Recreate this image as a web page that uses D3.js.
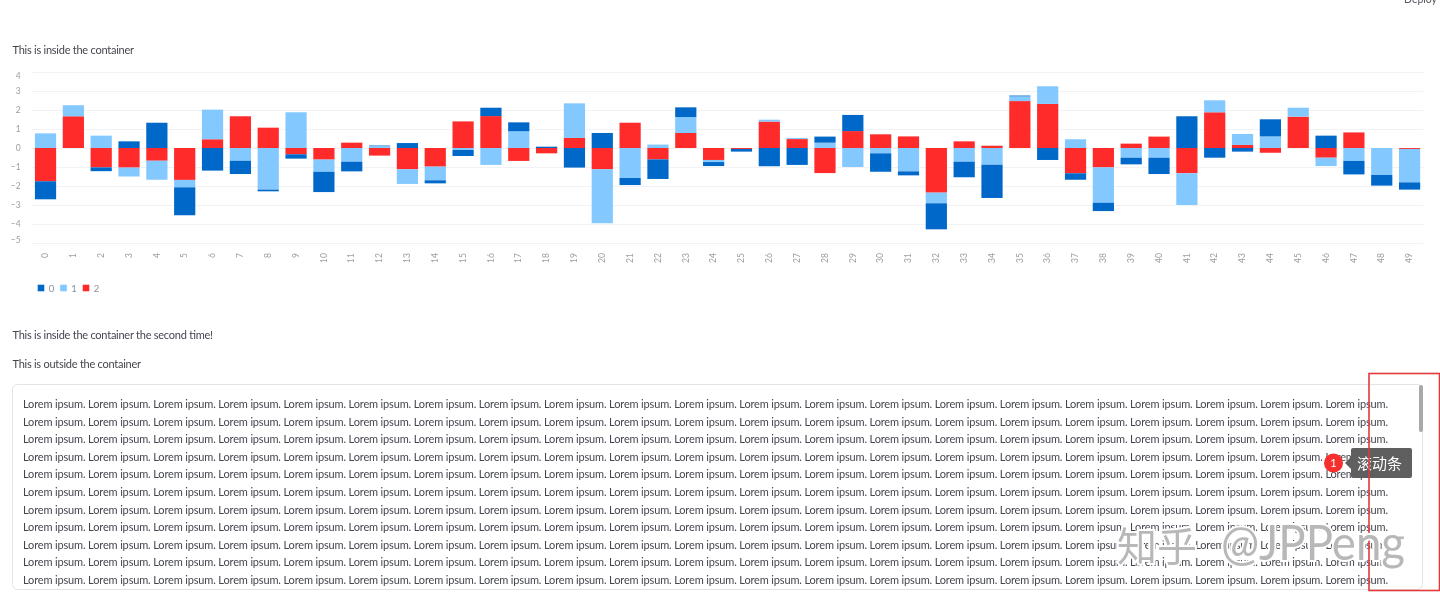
<!DOCTYPE html>
<html>
<head>
<meta charset="utf-8">
<script src="https://cdn.jsdelivr.net/npm/d3@7"></script>
<style>
    html, body {margin: 0; padding: 0; background: #fff; overflow: hidden;}
    svg {display: block; filter: blur(0.35px);}
    text {font-family: "Lato", "Noto Sans", sans-serif;}
    .page-text {font-size: 11px; fill: #44464f;}
    .axis text {font-size: 8.5px; fill: #9e9e9e;}
    .axis path {display: none;}
    .axis line {stroke: #f0f2f6;}
</style>
</head>
<body>
<div id="vis"></div>
<script>
const categories = ["0","1","2","3","4","5","6","7","8","9","10","11","12","13","14","15","16","17","18","19","20","21","22","23","24","25","26","27","28","29","30","31","32","33","34","35","36","37","38","39","40","41","42","43","44","45","46","47","48","49"];

const series0 = [-0.95,0,-0.2,0.35,1.33,-1.47,-1.19,-0.7,-0.09,-0.23,-1.07,-0.51,0.03,0.26,-0.16,-0.32,0.44,0.47,0.07,-1.03,0.79,-0.37,-1.03,0.51,-0.21,-0.14,-0.96,-0.89,0.32,0.85,-0.97,-0.21,-1.37,-0.82,-1.75,0.04,-0.63,-0.34,-0.44,-0.35,-0.86,1.67,-0.51,-0.19,0.9,0,0.65,-0.71,-0.56,-0.38];
const series1 = [0.77,0.58,0.65,-0.47,-1.0,-0.39,1.56,-0.67,-2.19,1.88,-0.64,-0.72,0.1,-0.77,-0.72,-0.1,-0.89,0.88,0,1.82,-2.84,-1.58,0.18,0.84,-0.11,0,0.1,0.06,0.28,-1.0,-0.28,-1.23,-0.56,-0.72,-0.88,0.25,0.93,0.46,-1.86,-0.51,-0.51,-1.67,0.63,0.58,0.61,0.47,-0.44,-0.68,-1.42,-1.76];
const series2 = [-1.75,1.67,-1.02,-1.03,-0.67,-1.68,0.46,1.67,1.07,-0.33,-0.61,0.28,-0.4,-1.12,-0.98,1.4,1.68,-0.68,-0.28,0.53,-1.12,1.33,-0.6,0.79,-0.63,-0.05,1.39,0.47,-1.32,0.89,0.72,0.61,-2.35,0.35,0.12,2.47,2.32,-1.33,-1.02,0.23,0.6,-1.33,1.88,0.16,-0.25,1.65,-0.51,0.82,0,-0.05];

const seriesNames = ["0", "1", "2"];
const yTicks = [-5,-4,-3,-2,-1,0,1,2,3,4];
const COLORS = ["#0068c9", "#83c9ff", "#ff2b2b"];

const pageLabels = [
    "This is inside the container",
    "This is inside the container the second time!",
    "This is outside the container"
];

const LABEL_Y = [54, 339, 368];
const LABEL_WIDTH = [121.5, 200.5, 128.5];

const FRAME_WIDTH = 1440;
const FRAME_HEIGHT = 606;
const PLOT = {left: 31.6, right: 1423.5, top: 72, bottom: 243};

const FRAME = d3.select("#vis")
    .append("svg")
        .attr("width", FRAME_WIDTH)
        .attr("height", FRAME_HEIGHT);

const X_SCALE = d3.scaleBand()
    .domain(categories)
    .range([PLOT.left, PLOT.right])
    .paddingInner(0.238)
    .paddingOuter(0.119);

const Y_SCALE = d3.scaleLinear()
    .domain([-5, 4])
    .range([PLOT.bottom, PLOT.top]);

const COLOR = d3.scaleOrdinal().domain(seriesNames).range(COLORS);

// grid first so that the bars sit on top
FRAME.append("g")
    .attr("class", "axis")
    .attr("transform", "translate(" + PLOT.left + ",0)")
    .call(d3.axisLeft(Y_SCALE)
        .tickValues(yTicks)
        .tickSize(-(PLOT.right - PLOT.left))
        .tickPadding(11))
    // first and last label are pushed inside the plot
    .call((g) => g.selectAll("text")
        .attr("dy", (d) => d === 4 ? "0.71em" : d === -5 ? "-0.11em" : "0.32em"));

FRAME.append("g")
    .attr("class", "axis")
    .attr("transform", "translate(0," + PLOT.bottom + ")")
    .call(d3.axisBottom(X_SCALE).tickSize(0))
    .call((g) => g.selectAll("text")
        .attr("transform", "rotate(-90)")
        .attr("text-anchor", "end")
        .attr("x", -10)
        .attr("y", 0)
        .attr("dy", "0.32em"));

const rows = categories.map((c, i) => ({
    category: c,
    "0": series0[i],
    "1": series1[i],
    "2": series2[i]
}));

// red sits next to zero, dark blue on the outside
const stacked = d3.stack()
    .keys(["2", "1", "0"])
    .offset(d3.stackOffsetDiverging)(rows);

FRAME.append("g")
    .selectAll("g")
    .data(stacked)
    .enter()
    .append("g")
        .attr("fill", (d) => COLOR(d.key))
    .selectAll("rect")
    .data((d) => d)
    .enter()
    .append("rect")
        .attr("x", (d) => X_SCALE(d.data.category))
        .attr("width", X_SCALE.bandwidth())
        .attr("y", (d) => Y_SCALE(d[1]))
        .attr("height", (d) => Y_SCALE(d[0]) - Y_SCALE(d[1]));

// legend
const LEGEND_X = d3.scalePoint().domain(seriesNames).range([37.7, 82.7]);

const legend = FRAME.append("g")
    .selectAll("g")
    .data(seriesNames)
    .enter()
    .append("g")
        .attr("transform", (d) => "translate(" + LEGEND_X(d) + ",284.7)");

legend.append("rect")
    .attr("width", 6.6)
    .attr("height", 6.6)
    .attr("fill", (d) => COLOR(d));

legend.append("text")
    .attr("x", 11)
    .attr("y", 6.8)
    .attr("font-size", 9.5)
    .attr("fill", "#8c8e95")
    .text((d) => d);

// text around the chart
FRAME.selectAll(".page-text")
    .data(pageLabels)
    .enter()
    .append("text")
        .attr("class", "page-text")
        .attr("x", 12.5)
        .attr("y", (d, i) => LABEL_Y[i])
        .attr("textLength", (d, i) => LABEL_WIDTH[i])
        .text((d) => d);

FRAME.append("text")
    .attr("x", 1404)
    .attr("y", 3)
    .attr("font-size", 10.5)
    .attr("fill", "#55575f")
    .text("Deploy");

// scroll box
FRAME.append("rect")
    .attr("x", 12.5)
    .attr("y", 384.5)
    .attr("width", 1410)
    .attr("height", 205)
    .attr("rx", 5)
    .attr("fill", "#fff")
    .attr("stroke", "#e2e3e6");

const LOREM = d3.range(21).map(() => "Lorem ipsum.").join(" ");

FRAME.append("g")
    .selectAll("text")
    .data(d3.range(11))
    .enter()
    .append("text")
        .attr("x", 23)
        .attr("y", (d) => 408 + d * 17.6)
        .attr("font-size", 11)
        .attr("fill", "#44464f")
        .attr("textLength", 1365)
        .text(LOREM);

FRAME.append("rect")
    .attr("x", 1419)
    .attr("y", 385)
    .attr("width", 4)
    .attr("height", 47)
    .attr("rx", 2)
    .attr("fill", "#a8a8a8");

// annotation pasted over the screenshot
FRAME.append("path")
    .attr("d", "M1351,457 L1345,463 L1351,469 Z")
    .attr("fill", "#5f5f5f");

FRAME.append("rect")
    .attr("x", 1351)
    .attr("y", 448)
    .attr("width", 61)
    .attr("height", 30)
    .attr("rx", 2)
    .attr("fill", "#5f5f5f");

FRAME.append("text")
    .attr("x", 1357)
    .attr("y", 469)
    .attr("font-size", 15)
    .attr("fill", "#fff")
    .style("font-family", "'Noto Sans CJK SC'")
    .text("滚动条");

FRAME.append("circle")
    .attr("cx", 1333.5)
    .attr("cy", 463)
    .attr("r", 9.5)
    .attr("fill", "#f5302e");

FRAME.append("text")
    .attr("x", 1333.5)
    .attr("y", 467)
    .attr("font-size", 11)
    .attr("text-anchor", "middle")
    .attr("fill", "#fff")
    .text("1");

FRAME.append("rect")
    .attr("x", 1369)
    .attr("y", 373.5)
    .attr("width", 70.5)
    .attr("height", 217)
    .attr("fill", "none")
    .attr("stroke", "#e0393e")
    .attr("stroke-width", 1.6);

// watermark, the white halo knocks out the text underneath
const watermark = FRAME.append("g")
    .attr("fill", "#b8b8b8")
    .attr("stroke", "#fff")
    .attr("stroke-width", 4)
    .attr("paint-order", "stroke");

watermark.append("text")
    .attr("x", 1117)
    .attr("y", 561)
    .attr("font-size", 40)
    .style("font-family", "'Noto Sans CJK SC'")
    .text("知乎");

watermark.append("text")
    .attr("x", 1221)
    .attr("y", 560)
    .attr("font-size", 48)
    .attr("textLength", 184)
    .attr("lengthAdjust", "spacingAndGlyphs")
    .text("@JPPeng");
</script>
</body>
</html>
